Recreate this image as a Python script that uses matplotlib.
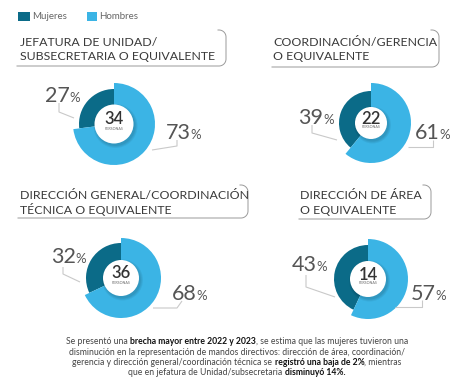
import numpy as np
import matplotlib
matplotlib.use("Agg")
import matplotlib.pyplot as plt
from matplotlib.patches import Circle, Rectangle

plt.rcParams['font.family'] = ['Lato', 'DejaVu Sans']

# data
titulos = ["JEFATURA DE UNIDAD/\nSUBSECRETARIA O EQUIVALENTE",
           "COORDINACIÓN/GERENCIA\nO EQUIVALENTE",
           "DIRECCIÓN GENERAL/COORDINACIÓN\nTÉCNICA O EQUIVALENTE",
           "DIRECCIÓN DE ÁREA\nO EQUIVALENTE"]
mujeres = [27, 39, 32, 43]
hombres = [73, 61, 68, 57]
personas = [34, 22, 36, 14]

nota = [
    [("Se presentó una ", False), ("brecha mayor entre 2022 y 2023", True),
     (", se estima que las mujeres tuvieron una", False)],
    [("disminución en la representación de mandos directivos: dirección de área, coordinación/", False)],
    [("gerencia y dirección general/coordinación técnica se ", False),
     ("registró una baja de 2%", True), (", mientras", False)],
    [("que en jefatura de Unidad/subsecretaria ", False), ("disminuyó 14%.", True)],
]

C_MUJ = "#0b6b88"
C_HOM = "#3bb4e5"
GRIS = "#555555"
LINEA = "#c9c9c9"

W, H = 474, 388
def Y(y):
    return H - y

# layout (pixels, y from top)
centros = [(114, 124), (371, 123), (121, 278), (368, 279)]
r_hom = [41, 40, 40, 40]
r_muj = [35, 32, 35, 34]
r_hueco = [19.5, 16, 18, 18]
# % labels: (x split between number and sign, y centre)
pos_muj = [(69.5, 95), (323.5, 117), (75.5, 256), (317, 264)]
pos_hom = [(190.5, 132), (439.5, 132), (197, 293), (436, 293)]
guias = [
    [[(59, 103), (59, 112), (74, 118)], [(177, 140), (177, 146), (152, 150)]],
    [[(312, 125), (312, 133), (337, 140)], [(433, 140), (433, 147), (408, 147)]],
    [[(63, 267), (63, 274), (80, 282)], [(182, 301), (177, 308), (153, 308)]],
    [[(306, 275), (306, 287), (335, 297)], [(422, 300), (422, 307), (395, 307)]],
]
# title boxes: text x, first line y, box left, box right, top, bottom
cajas = [(20, 42.5, 17, 226, 30, 66),
         (273, 42.5, 272, 439, 30, 67),
         (20, 195.5, 18, 248, 185, 218),
         (300, 195.5, 299, 431, 185, 219)]

fig = plt.figure(figsize=(W / 100, H / 100), dpi=100)
ax = fig.add_axes([0, 0, 1, 1])

for i in range(4):
    cx, cy = centros[i]
    wedges, _ = ax.pie([mujeres[i], hombres[i]], colors=[C_MUJ, C_HOM],
                       startangle=90, counterclock=True, radius=r_hom[i],
                       center=(cx, Y(cy)), wedgeprops=dict(linewidth=0))
    wedges[0].set_radius(r_muj[i])
    # soft shadow for the center disk
    for k, a in enumerate([0.05, 0.05, 0.06]):
        ax.add_patch(Circle((cx + 1.5, Y(cy) - 2), r_hueco[i] + 2.5 - k, color="black",
                            alpha=a, lw=0, zorder=3))
    ax.add_patch(Circle((cx, Y(cy)), r_hueco[i], color="white", lw=0, zorder=4))
    ax.text(cx, Y(cy - 4.5), str(personas[i]), ha="center", va="center",
            fontsize=12, fontweight="semibold", color="#333333", zorder=5)
    ax.text(cx, Y(cy + 4.5), "PERSONAS", ha="center", va="center",
            fontsize=2.6, color="#666666", zorder=5)

    for (xs, ys), val in [(pos_muj[i], mujeres[i]), (pos_hom[i], hombres[i])]:
        ax.text(xs, Y(ys + 7), str(val), ha="right", va="baseline", fontsize=15.5,
                color=GRIS)
        ax.text(xs - 0.5, Y(ys + 7), "%", ha="left", va="baseline", fontsize=9.5,
                color=GRIS)
    for g in guias[i]:
        px = [p[0] for p in g]
        py = [Y(p[1]) for p in g]
        ax.plot(px, py, color=LINEA, lw=0.8, solid_capstyle="butt")

    # title and box
    tx, ty, bl, br, bt, bb = cajas[i]
    ax.text(tx, Y(ty), titulos[i].split("\n")[0], ha="left", va="center",
            fontsize=8.9, color="#3a3a3a")
    ax.text(tx, Y(ty + 14.5), titulos[i].split("\n")[1], ha="left", va="center",
            fontsize=8.9, color="#3a3a3a")
    rr = 7
    t = np.linspace(0, np.pi / 2, 20)
    xs = [bl, br - rr] + list(br - rr + rr * np.sin(t)) + [br] \
        + list(br - rr + rr * np.cos(t)) + [br - rr - 1]
    ys = [bb, bb] + list(bb - rr + rr * np.cos(t)) + [bt + rr] \
        + list(bt + rr - rr * np.sin(t)) + [bt]
    ax.plot(xs, [Y(v) for v in ys], color="#9a9a9a", lw=0.7)

# legend
ax.add_patch(Rectangle((18, Y(21)), 12, 9.5, color=C_MUJ, lw=0))
ax.text(32, Y(16.5), "Mujeres", ha="left", va="center", fontsize=7, color="#666666")
ax.add_patch(Rectangle((87, Y(21)), 10, 9.5, color=C_HOM, lw=0))
ax.text(99, Y(16.5), "Hombres", ha="left", va="center", fontsize=7, color="#666666")

ax.set_xlim(0, W)
ax.set_ylim(0, H)
ax.set_aspect("auto")
ax.axis("off")

# footer note with bold pieces
rend = fig.canvas.get_renderer()
def ancho(s, bold, fs):
    t1 = ax.text(0, 0, s + "l", fontsize=fs, fontweight="bold" if bold else "normal")
    t2 = ax.text(0, 0, "l", fontsize=fs, fontweight="bold" if bold else "normal")
    w = t1.get_window_extent(rend).width - t2.get_window_extent(rend).width
    t1.remove()
    t2.remove()
    return w

fs_nota = 6.2
for j, linea in enumerate(nota):
    anchos = [ancho(s, b, fs_nota) for s, b in linea]
    x = W / 2 - sum(anchos) / 2
    for (s, b), w in zip(linea, anchos):
        ax.text(x, Y(342 + 10.2 * j), s, ha="left", va="center", fontsize=fs_nota,
                fontweight="bold" if b else "normal",
                color="#111111" if b else "#444444")
        x += w

fig.savefig("out.png", dpi=100)
